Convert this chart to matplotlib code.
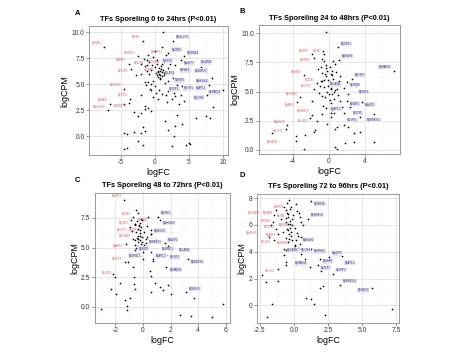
import matplotlib
matplotlib.use("Agg")
import matplotlib.pyplot as plt
from matplotlib.ticker import FixedLocator
from matplotlib.transforms import Bbox

plt.rcParams['font.family'] = ['Liberation Sans', 'DejaVu Sans']

# ---- panel A : 0 to 24hrs ----
a_x = [1.2, -0.3, 0.2, -0.6, 0.4, 0.6, 0.8, 1.0, 0.5, 0.9, 0.7, 1.3, 0.3, -0.2, 1.6, 1.9, 0.1, 0.6,
       1.1, 0.4, -0.5, -1.0, -0.7, -1.5, -0.5, 0.2, 0.0, 1.5, 2.2, 3.0, 1.8, 2.5, 3.5, 4.2, 3.2, 2.0,
       -2.0, -1.5, -1.5, -1.0, -0.5, -2.5, -3.0, -4.5, -2.0, 1.5, 3.0, 4.0, 6.0, 8.0, 7.5, 8.5, 1.9,
       -4.5, -4.0, -4.5, -4.0, -3.0, -2.5, -2.0, -1.7, -1.7, -1.4, 2.5, 2.8, 4.5, 5.0, 5.1, -1.2,
       2.2, 1.4, -0.8, -2.8, 0.0, 3.8, 5.5, 2.6, 1.0, 0.3, -1.3,
       0.8, 1.0, 0.6, 1.2, 0.9, 0.5, 1.4, 0.7, 1.1, 0.3, -0.4, -1.2, -0.8, -2.0, -1.6, 2.0, 2.8,
       1.7, 3.3, -0.2]
a_y = [10.05, 7.6, 6.1, 6.4, 6.3, 6.0, 5.9, 6.2, 5.7, 6.5, 5.5, 6.1, 7.0, 5.3, 7.8, 6.6, 4.8, 4.5,
       4.1, 3.6, 5.0, 5.2, 4.6, 5.2, 4.5, 4.2, 6.7, 5.1, 4.6, 3.9, 3.3, 3.6, 3.1, 3.4, 2.1, 4.4,
       2.2, 2.6, 2.9, 2.7, 2.4, 2.0, 2.3, 3.1, 4.0, 1.5, 1.0, 1.2, 1.8, 1.8, 2.0, 2.8, 0.6,
       -1.2, -1.1, 0.3, 0.2, 0.4, -0.4, 0.3, 0.9, -0.8, 0.5, -0.9, 0.0, -0.8, -0.6, -0.7, 6.9,
       7.0, 7.2, 6.0, 5.9, 8.2, 4.0, 4.6, 5.6, 8.6, 7.3, 4.9,
       6.3, 5.8, 6.6, 6.4, 6.8, 6.2, 5.9, 5.6, 7.0, 5.9, 6.9, 6.3, 7.2, 7.0, 7.4, 5.3, 4.2,
       4.0, 4.9, 3.8]
a_lab_x = [-7.4, -1.7, -2.5, -1.2, -3.8, -1.5, -3.5, -2.0, -4.5, -3.6, -3.8, -6.5, -6.8, -1.0,
           2.7, 2.0, 4.3, 3.9, 5.0, 2.2, 3.0, 6.8, 7.5, 2.5, 8.3, 6.5, 10.0, 7.9, 7.6, 4.0]
a_lab_y = [8.6, 9.2, 7.7, 7.3, 7.0, 6.8, 6.5, 6.0, 4.6, 3.6, 3.2, 3.1, 2.5, 7.8,
           9.2, 8.0, 7.7, 7.3, 7.2, 7.3, 6.9, 6.7, 6.2, 6.0, 5.6, 5.5, 4.5, 4.9, 4.0, 4.8]
a_names = ["MpNAC1", "MpHB3", "MpERF12", "MpBZR2", "MpARF3", "MpGRAS4", "MpDOF1", "MpMYB8",
           "MpERF20", "MpTCP2", "MpWRKY9", "MpNAC6", "MpbHLH15", "MpC2H2-3",
           "MpHD-ZIP1", "MpERF5", "MpMYB14", "MpbZIP7", "MpWRKY2", "MpLBD4", "MpTCP1", "MpNAC9",
           "MpGATA3", "MpSBP2", "MpbHLH22", "MpHSF1", "MpMADS2", "MpAP2-1", "MpDOF4", "MpGRF2"]

# ---- panel B : 24 to 48hrs ----
b_x = [-0.26, -0.6, -0.7, -0.5, 0.5, 0.7, -0.9, 0.4, 0.2, -0.3, -0.5, 0.1, 0.8, -0.1, 0.3, -0.8,
       0.6, 0.0, -0.4, 1.0, 1.3, -0.2, 0.5, 0.9, -1.0, 0.2, -0.6, 1.5, 2.2, -1.9, -1.3, 3.0, 0.75,
       0.9, 1.85, 2.8, 5.0, 3.5, 2.8, 2.2, 0.9, 0.75, 1.7, -0.2, 0.2, -3.7, -2.6, -1.6, -1.5, -3.6,
       -2.8, 0.4, -0.8, 0.0, 1.2, -0.3, 0.6, -1.1, 0.3, 2.5,
       -0.3, 0.1, -0.7, 0.4, -0.1, 0.2, -0.5, 0.7, -0.2, 0.4, -0.8, 0.1, -0.3, 0.6, -1.2, 0.8,
       -0.4, 1.1, -0.9, 0.3]
b_y = [10.08, 8.5, 7.8, 7.6, 7.6, 7.4, 7.1, 6.8, 6.5, 6.3, 6.0, 5.8, 5.6, 5.5, 5.3, 5.9, 5.0,
       4.8, 4.5, 4.7, 4.2, 6.8, 6.1, 5.2, 5.5, 4.0, 3.8, 3.7, 4.8, 4.2, 2.5, 2.5, 0.25,
       0.1, 0.55, 0.7, 0.7, 1.55, 1.45, 2.0, 2.0, 1.8, 2.1, 2.2, 2.8, 1.2, 1.25, 1.5, 1.7, 0.77,
       0.1, 3.4, 3.1, 5.6, 6.3, 7.0, 4.4, 4.9, 3.2, 3.9,
       7.3, 7.1, 6.6, 6.4, 6.0, 5.7, 5.4, 5.1, 5.0, 4.8, 4.6, 4.3, 3.6, 3.2, 6.9, 6.7,
       6.5, 5.9, 5.9, 5.2]
b_lab_x = [-1.9, -0.5, -1.7, -2.8, -1.3, -1.7, -3.2, -3.5, -1.9, -2.1, -4.6, -4.8, -6.3,
           1.0, 1.1, 7.25, 2.6, 2.0, 3.0, 1.7, 2.0, 3.7, 2.4, 1.7, 5.0, 3.5]
b_lab_y = [8.2, 8.2, 7.9, 6.4, 5.7, 5.2, 4.5, 4.1, 3.0, 2.7, 2.1, 1.8, 1.45,
           8.8, 7.7, 6.8, 6.1, 5.8, 5.5, 5.3, 4.2, 4.1, 3.7, 3.2, 3.1, 2.8]
b_names = ["MpERF3", "MpHB7", "MpMYB2", "MpNAC4", "MpTCP3", "MpDOF2", "MpGRAS1", "MpARF1",
           "MpWRKY5", "MpLBD2", "MpbHLH8", "MpC3H1", "MpNAC11",
           "MpTINY1", "MpbHLH3", "MpMADS1", "MpHSF2", "MpMYB9", "MpERF8", "MpGATA1", "MpSBP1",
           "MpbZIP3", "MpTCP5", "MpAP2-3", "MpWRKY11", "MpGRF1"]

# ---- panel C : 48 to 72hrs ----
c_x = [-0.5, -0.36, 0.36, -0.24, -0.6, 0.6, -0.77, 0.6, -0.24, -0.5, -0.3, -0.4, -0.2, -0.1,
       -0.45, -0.35, -0.15, -0.55, 0.1, 0.0, -0.3, -0.25, -0.4, 0.2, -0.6, 0.48, 0.6, -0.67, -1.1,
       -0.7, -1.7, -0.67, 0.84, 1.2, 1.45, 1.8, 2.05, 0.6, -2.3, -1.97, -0.6, -0.96, -1.33, -1.2,
       -1.16, -3.08, 3.73, 2.65, 3.5, 5.0, 5.8, -2.2, 0.72, -0.05, 0.3, -0.8,
       -0.45, -0.3, -0.5, -0.2, -0.35, -0.1, -0.4, -0.25, 0.05, -0.55, -0.15, 0.3, -0.6, -0.3, 0.1]
c_y = [8.2, 7.9, 7.55, 7.1, 7.0, 6.5, 6.4, 6.1, 5.6, 5.0, 6.9, 6.6, 6.2, 5.9,
       5.8, 5.5, 5.3, 5.2, 4.9, 4.6, 4.5, 4.3, 6.0, 5.4, 4.8, 3.05, 2.6, 2.55, 3.75,
       3.35, 2.0, 1.9, 2.0, 1.65, 1.45, 1.8, 1.1, 1.25, 1.5, 1.05, 1.5, 0.76, 0.6, 0.1,
       -0.25, -0.17, 0.76, -0.67, -0.76, -0.87, 0.2, 2.8, 3.9, 7.3, 6.8, 4.4,
       7.2, 6.8, 6.3, 6.0, 5.7, 5.5, 5.1, 6.5, 6.3, 6.9, 7.4, 5.9, 5.6, 4.9, 5.2]
c_lab_x = [-1.37, -0.7, -0.84, -0.6, -0.96, -0.7, -1.25, -1.33, -2.05,
           1.08, 1.2, -0.12, 0.6, 0.24, 0.96, 1.57, 1.8, 0.6, 1.7, 0.72, 0.0, 3.25, 1.7, 3.13]
c_lab_y = [9.0, 7.55, 7.3, 7.0, 6.7, 5.7, 5.3, 3.75, 2.55,
           7.6, 7.3, 6.7, 6.1, 5.7, 5.65, 5.35, 5.1, 4.6, 4.4, 4.0, 4.0, 4.05, 3.35, 1.23]
c_names = ["MpERF1", "MpHB2", "MpNAC7", "MpMYB5", "MpDOF3", "MpGRAS2", "MpARF2", "MpTCP4",
           "MpLBD1",
           "MpCRF1", "MpbHLH14", "MpERF9", "MpBHLH2", "MpWRKY3", "MpMYB11", "MpbZIP2",
           "MpGATA2", "MpSBP3", "MpHSF3", "MpAP2-2", "MpMYB17", "MpWRKY8",
           "MpMADS3", "MpBHLH5"]

# ---- panel D : 72 to 96hrs ----
d_x = [-0.37, 0.17, -0.69, -0.07, 0.54, 0.66, -0.44, -0.3, -0.2, 0.3, 0.54, 0.17, -0.5, -0.6,
       -0.25, -0.1, -0.45, -0.35, -0.55, -0.15, 0.05, -0.4, -0.69, -0.6, -0.69, -0.57, -0.6,
       -1.18, -2.04, -1.18, 1.9, 2.1, 0.91, 1.28, 1.45, -1.6, -1.97, 2.31, 7.17, 0.79, 2.0,
       0.2, 0.45, -0.8, -0.3,
       -0.5, -0.2, -0.4, -0.1, -0.3, 0.1, -0.5, -0.2, 0.2, -0.35, 0.1, -0.6, 0.35]
d_y = [7.88, 7.58, 7.33, 6.7, 6.2, 5.96, 6.1, 5.8, 5.46, 5.2, 5.1, 4.84, 6.9, 6.5,
       6.3, 6.0, 5.6, 5.3, 5.0, 4.9, 4.5, 4.7, 4.22, 4.1, 3.73, 3.23, 2.98,
       2.73, 1.74, 1.81, 1.29, 1.45, 0.57, 0.45, 0.07, 0.12, -0.87, -0.7, -0.25, 3.48, 2.6,
       7.0, 6.6, 5.5, 7.2,
       7.6, 7.3, 6.6, 6.4, 6.1, 5.8, 5.7, 5.2, 5.4, 4.95, 4.4, 6.2, 6.9]
d_lab_x = [-0.57, -0.44, -1.3, -1.43, -0.93, -1.55, -1.67, -1.3, -1.18, -1.79, -1.43, -2.33,
           1.28, 1.03, 0.42, 0.3, 1.28, 0.54, 1.9, 2.6, 3.5, 1.77, 1.15, 2.87, 3.37, 5.7]
d_lab_y = [7.08, 6.83, 7.08, 6.7, 6.46, 6.2, 5.96, 5.7, 5.34, 5.1, 4.84, 2.29,
           7.78, 6.46, 4.6, 4.3, 4.22, 3.85, 3.48, 3.6, 3.65, 2.98, 2.86, 2.36, 1.54, 1.32]
d_names = ["MpERF4", "MpHB5", "MpNAC8", "MpMYB3", "MpDOF5", "MpGRAS3", "MpARF4", "MpTCP6",
           "MpLBD3", "MpbHLH9", "MpWRKY6", "MpC3H2",
           "MpERF14", "MpWRKY4", "MpbHLH1", "MpHSF4", "MpMYB20", "MpGATA4",
           "MpSBP4", "MpbZIP5", "MpAP2-4", "MpTCP7", "MpMADS4", "MpGRF3",
           "MpWRKY10", "MpNAC10"]

panels = [
    ("A", "TFs Sporeling 0 to 24hrs (P<0.01)", a_x, a_y, a_lab_x, a_lab_y, a_names,
     [0.188, 0.562, 0.293, 0.364], (-9.6, 10.7), (-1.8, 10.6),
     [-5, 0, 5, 10], ["-5", "0", "5", "10"], [0, 2.5, 5, 7.5, 10], ["0.0", "2.5", "5.0", "7.5", "10.0"],
     (0.158, 0.972)),
    ("B", "TFs Sporeling 24 to 48hrs (P<0.01)", b_x, b_y, b_lab_x, b_lab_y, b_names,
     [0.546, 0.565, 0.297, 0.364], (-7.8, 7.9), (-0.35, 10.7),
     [-4, 0, 4], ["-4", "0", "4"], [0, 2.5, 5, 7.5, 10], ["0.0", "2.5", "5.0", "7.5", "10.0"],
     (0.506, 0.978)),
    ("C", "TFs Sporeling 48 to 72hrs (P<0.01)", c_x, c_y, c_lab_x, c_lab_y, c_names,
     [0.200, 0.088, 0.285, 0.367], (-3.5, 6.3), (-1.35, 9.6),
     [-2, 0, 2, 4, 6], ["-2", "0", "2", "4", "6"], [0, 2.5, 5, 7.5], ["0.0", "2.5", "5.0", "7.5"],
     (0.158, 0.500)),
    ("D", "TFs Sporeling 72 to 96hrs (P<0.01)", d_x, d_y, d_lab_x, d_lab_y, d_names,
     [0.542, 0.088, 0.300, 0.364], (-2.7, 7.7), (-1.3, 8.3),
     [-2.5, 0, 2.5, 5, 7.5], ["-2.5", "0.0", "2.5", "5.0", "7.5"], [0, 2, 4, 6, 8],
     ["0", "2", "4", "6", "8"],
     (0.506, 0.514)),
]

fig = plt.figure(figsize=(4.74, 3.54), dpi=100)
renderer = fig.canvas.get_renderer()


def n_overlaps(b, others):
    n = 0
    for o in others:
        if b.x0 < o.x1 and b.x1 > o.x0 and b.y0 < o.y1 and b.y1 > o.y0:
            n += 1
    return n


def label_box(t):
    t.draw(renderer)  # makes sure the bbox patch is sized
    boxes = [t.get_window_extent(renderer)]
    if t.get_bbox_patch() is not None:
        boxes.append(t.get_bbox_patch().get_window_extent(renderer))
    return Bbox.union(boxes).expanded(1.12, 1.4)


for (letter, title, px, py, lx, ly, names, pos, xlim, ylim,
     xt, xtl, yt, ytl, lpos) in panels:
    ax = fig.add_axes(pos)
    ax.set_facecolor("white")
    ax.set_xlim(*xlim)
    ax.set_ylim(*ylim)
    ax.set_xticks(xt)
    ax.set_xticklabels(xtl)
    ax.set_yticks(yt)
    ax.set_yticklabels(ytl)
    # ggplot style minor grid halfway between majors
    xm = [(xt[i] + xt[i + 1]) / 2 for i in range(len(xt) - 1)]
    xm = [xt[0] - (xt[1] - xt[0]) / 2] + xm + [xt[-1] + (xt[1] - xt[0]) / 2]
    ym = [(yt[i] + yt[i + 1]) / 2 for i in range(len(yt) - 1)]
    ym = [yt[0] - (yt[1] - yt[0]) / 2] + ym + [yt[-1] + (yt[1] - yt[0]) / 2]
    ax.xaxis.set_minor_locator(FixedLocator(xm))
    ax.yaxis.set_minor_locator(FixedLocator(ym))
    ax.grid(True, which="major", color="#dcdcdc", linewidth=0.5)
    ax.grid(True, which="minor", color="#efefef", linewidth=0.3)
    ax.set_axisbelow(True)
    for s in ax.spines.values():
        s.set_color("#8a8a8a")
        s.set_linewidth(0.6)
    ax.tick_params(which="major", labelsize=4.8, length=2, width=0.5, color="#666666",
                   pad=1.2, labelcolor="#333333")
    ax.tick_params(which="minor", length=0)
    ax.set_xlabel("logFC", fontsize=6.4, labelpad=1)
    ax.set_ylabel("logCPM", fontsize=6.4, labelpad=1.5)
    ax.set_title(title, fontsize=5.3, fontweight="bold", pad=4)

    ax.scatter(px, py, s=1.5, color="black", linewidths=0)
    ax.scatter(lx, ly, s=1.5, color="black", linewidths=0)

    # crude label repel: try spots around the point, keep the least crowded one
    axbox = ax.get_window_extent(renderer)
    placed = []
    xr = xlim[1] - xlim[0]
    for x, y, name in zip(lx, ly, names):
        neg = x < 0
        near_right = x > xlim[1] - 0.22 * xr
        if neg:
            cands = [(-2, 1.2, "right"), (-2, -3.2, "right"), (-2, 3.6, "right"),
                     (2, 1.2, "left"), (-2, -5.5, "right"), (0, 5.5, "center"),
                     (-5, 6.0, "right"), (-5, -7.5, "right"), (2, -3.2, "left"),
                     (0, -8, "center"), (0, 8, "center"), (-9, 1.2, "right"),
                     (-9, -3.5, "right"), (-9, 5.0, "right"), (-4, 10, "right"),
                     (-4, -10.5, "right"), (-13, -1, "right"), (-13, 3.5, "right")]
        elif near_right:
            cands = [(-2, 1.2, "right"), (-2, -3.4, "right"), (-2, 3.8, "right"),
                     (0, 5.5, "center"), (0, -6, "center"), (-4, 7.5, "right"),
                     (-4, -8, "right"), (-8, 1.2, "right"), (-8, -4, "right")]
        else:
            cands = [(2, 1.2, "left"), (2, -3.4, "left"), (-2, 1.2, "right"),
                     (2, 3.8, "left"), (0, 5.5, "center"), (2, -6, "left"), (-2, -3.4, "right"),
                     (4, 7.5, "left"), (4, -8, "left"), (8, 1.2, "left"), (8, -4, "left"),
                     (8, 5, "left"), (0, 10, "center"), (0, -10.5, "center"),
                     (12, -1, "left"), (12, 3.5, "left")]
        best = None
        for dx, dy, ha in cands:
            if neg:
                t = ax.annotate(name, (x, y), xytext=(dx, dy), textcoords="offset points",
                                fontsize=1.8, color="#d9534f", ha=ha, va="bottom")
            else:
                t = ax.annotate(name, (x, y), xytext=(dx, dy), textcoords="offset points",
                                fontsize=1.8, color="#2c2c8a", ha=ha, va="bottom",
                                bbox=dict(boxstyle="square,pad=0.15", facecolor="#e6e6f2",
                                          edgecolor="none"))
            bb = label_box(t)
            score = n_overlaps(bb, placed)
            if bb.x0 < axbox.x0 or bb.x1 > axbox.x1 or bb.y0 < axbox.y0 or bb.y1 > axbox.y1:
                score += 0.5
            if best is None or score < best[0]:
                if best is not None:
                    best[1].remove()
                best = (score, t, bb)
            else:
                t.remove()
            if score == 0:
                break
        placed.append(best[2])
        best[1].set_clip_on(True)

    fig.text(lpos[0], lpos[1], letter, fontsize=5.5, fontweight="bold", ha="left", va="top")

fig.savefig("out.png", dpi=100)
